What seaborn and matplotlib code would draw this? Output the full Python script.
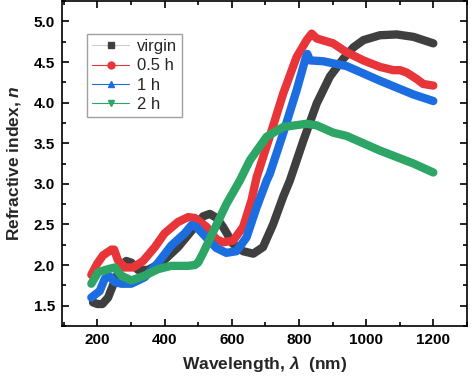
import pandas as pd
import numpy as np
import matplotlib
matplotlib.use("Agg")
import matplotlib.pyplot as plt
from matplotlib.lines import Line2D
from matplotlib.ticker import MultipleLocator, FormatStrFormatter
import seaborn as sns

# values
wl_virgin = [187, 200, 215, 232, 252, 271, 286, 301, 321, 351, 391, 440, 490, 515, 535, 555, 574, 604, 634, 664, 693, 723, 753, 773, 813, 853, 892, 932, 962, 992, 1041, 1091, 1141, 1200]
n_virgin = [1.54, 1.52, 1.52, 1.60, 1.81, 1.99, 2.05, 2.03, 1.94, 1.94, 2.03, 2.22, 2.47, 2.60, 2.63, 2.58, 2.47, 2.26, 2.17, 2.14, 2.22, 2.50, 2.84, 3.04, 3.53, 3.99, 4.32, 4.54, 4.68, 4.77, 4.83, 4.84, 4.81, 4.73]

wl_05h = [182, 200, 217, 242, 250, 261, 281, 306, 336, 371, 400, 440, 470, 490, 525, 554, 574, 604, 634, 659, 674, 713, 753, 793, 823, 838, 853, 902, 942, 992, 1041, 1081, 1101, 1121, 1151, 1170, 1200]
n_05h = [1.88, 2.02, 2.12, 2.19, 2.19, 2.06, 1.97, 1.97, 2.05, 2.22, 2.39, 2.53, 2.59, 2.58, 2.47, 2.32, 2.28, 2.30, 2.47, 2.80, 3.08, 3.58, 4.11, 4.56, 4.77, 4.85, 4.79, 4.73, 4.62, 4.52, 4.44, 4.40, 4.40, 4.37, 4.29, 4.23, 4.21]

wl_1h = [182, 207, 222, 237, 252, 271, 301, 341, 381, 420, 460, 480, 495, 515, 554, 584, 614, 644, 674, 704, 713, 753, 793, 818, 825, 833, 872, 942, 1041, 1141, 1200]
n_1h = [1.60, 1.68, 1.83, 1.86, 1.79, 1.77, 1.77, 1.85, 2.03, 2.24, 2.39, 2.49, 2.47, 2.38, 2.21, 2.15, 2.17, 2.34, 2.71, 3.04, 3.12, 3.62, 4.15, 4.52, 4.60, 4.52, 4.51, 4.45, 4.27, 4.10, 4.02]

wl_2h = [182, 202, 232, 252, 271, 301, 341, 381, 420, 470, 490, 500, 515, 554, 584, 624, 654, 704, 753, 823, 853, 902, 942, 1041, 1141, 1200]
n_2h = [1.77, 1.91, 1.95, 1.97, 1.87, 1.81, 1.87, 1.95, 1.99, 1.99, 2.00, 2.03, 2.15, 2.49, 2.75, 3.04, 3.29, 3.58, 3.70, 3.74, 3.72, 3.63, 3.59, 3.41, 3.25, 3.14]

labels = ["virgin", "0.5 h", "1 h", "2 h"]
colors = ["#3f3f3f", "#e8353a", "#1c6ee0", "#2ca565"]
markers = ["s", "o", "^", "v"]

df = pd.concat([
    pd.DataFrame({"wl": wl_virgin, "n": n_virgin, "sample": "virgin"}),
    pd.DataFrame({"wl": wl_05h, "n": n_05h, "sample": "0.5 h"}),
    pd.DataFrame({"wl": wl_1h, "n": n_1h, "sample": "1 h"}),
    pd.DataFrame({"wl": wl_2h, "n": n_2h, "sample": "2 h"}),
])

sns.set_theme(style="ticks")
plt.rcParams['font.family'] = ['Liberation Sans', 'DejaVu Sans']
plt.rcParams['mathtext.fontset'] = 'custom'
plt.rcParams['mathtext.it'] = 'Liberation Sans:italic:bold'
plt.rcParams['mathtext.bf'] = 'Liberation Sans:bold'

fig = plt.figure(figsize=(4.74, 3.79), dpi=100)
ax = fig.add_axes([0.131, 0.14, 0.854, 0.857])

sns.lineplot(data=df, x="wl", y="n", hue="sample", hue_order=labels,
             palette=colors, sort=False, lw=6, legend=False, ax=ax,
             solid_capstyle="round", solid_joinstyle="round")

ax.set_xlim(95, 1300)
ax.set_ylim(1.25, 5.25)
ax.xaxis.set_major_locator(MultipleLocator(200))
ax.xaxis.set_minor_locator(MultipleLocator(100))
ax.yaxis.set_major_locator(MultipleLocator(0.5))
ax.yaxis.set_minor_locator(MultipleLocator(0.25))
ax.yaxis.set_major_formatter(FormatStrFormatter('%.1f'))
ax.tick_params(which="both", direction="in", top=True, right=True, width=1.2, colors="black")
ax.tick_params(which="major", length=5, labelsize=11, pad=5)
ax.tick_params(which="minor", length=3)
for lab in ax.get_xticklabels() + ax.get_yticklabels():
    lab.set_fontweight("bold")
for s in ax.spines.values():
    s.set_linewidth(1.2)
    s.set_color("black")

ax.set_xlabel(r"Wavelength, $\mathit{\lambda}$  (nm)", fontsize=12.5, fontweight="bold", labelpad=5)
ax.set_ylabel(r"Refractive index, $\mathit{n}$", fontsize=12.5, fontweight="bold", labelpad=8)

handles = [Line2D([0], [0], color=c, lw=0.8, marker=m, markersize=5)
           for c, m in zip(colors, markers)]
handles[0].set_color("#cccccc")
handles[0].set_markerfacecolor(colors[0])
handles[0].set_markeredgecolor(colors[0])
leg = ax.legend(handles, labels, loc="upper left", bbox_to_anchor=(0.062, 0.898),
                fontsize=12, frameon=True, fancybox=False, handlelength=2.2,
                borderpad=0.3, labelspacing=0.25, handletextpad=0.5, borderaxespad=0)
leg.get_frame().set_edgecolor("#888888")
leg.get_frame().set_linewidth(1.0)

fig.savefig("out.png", dpi=100)
